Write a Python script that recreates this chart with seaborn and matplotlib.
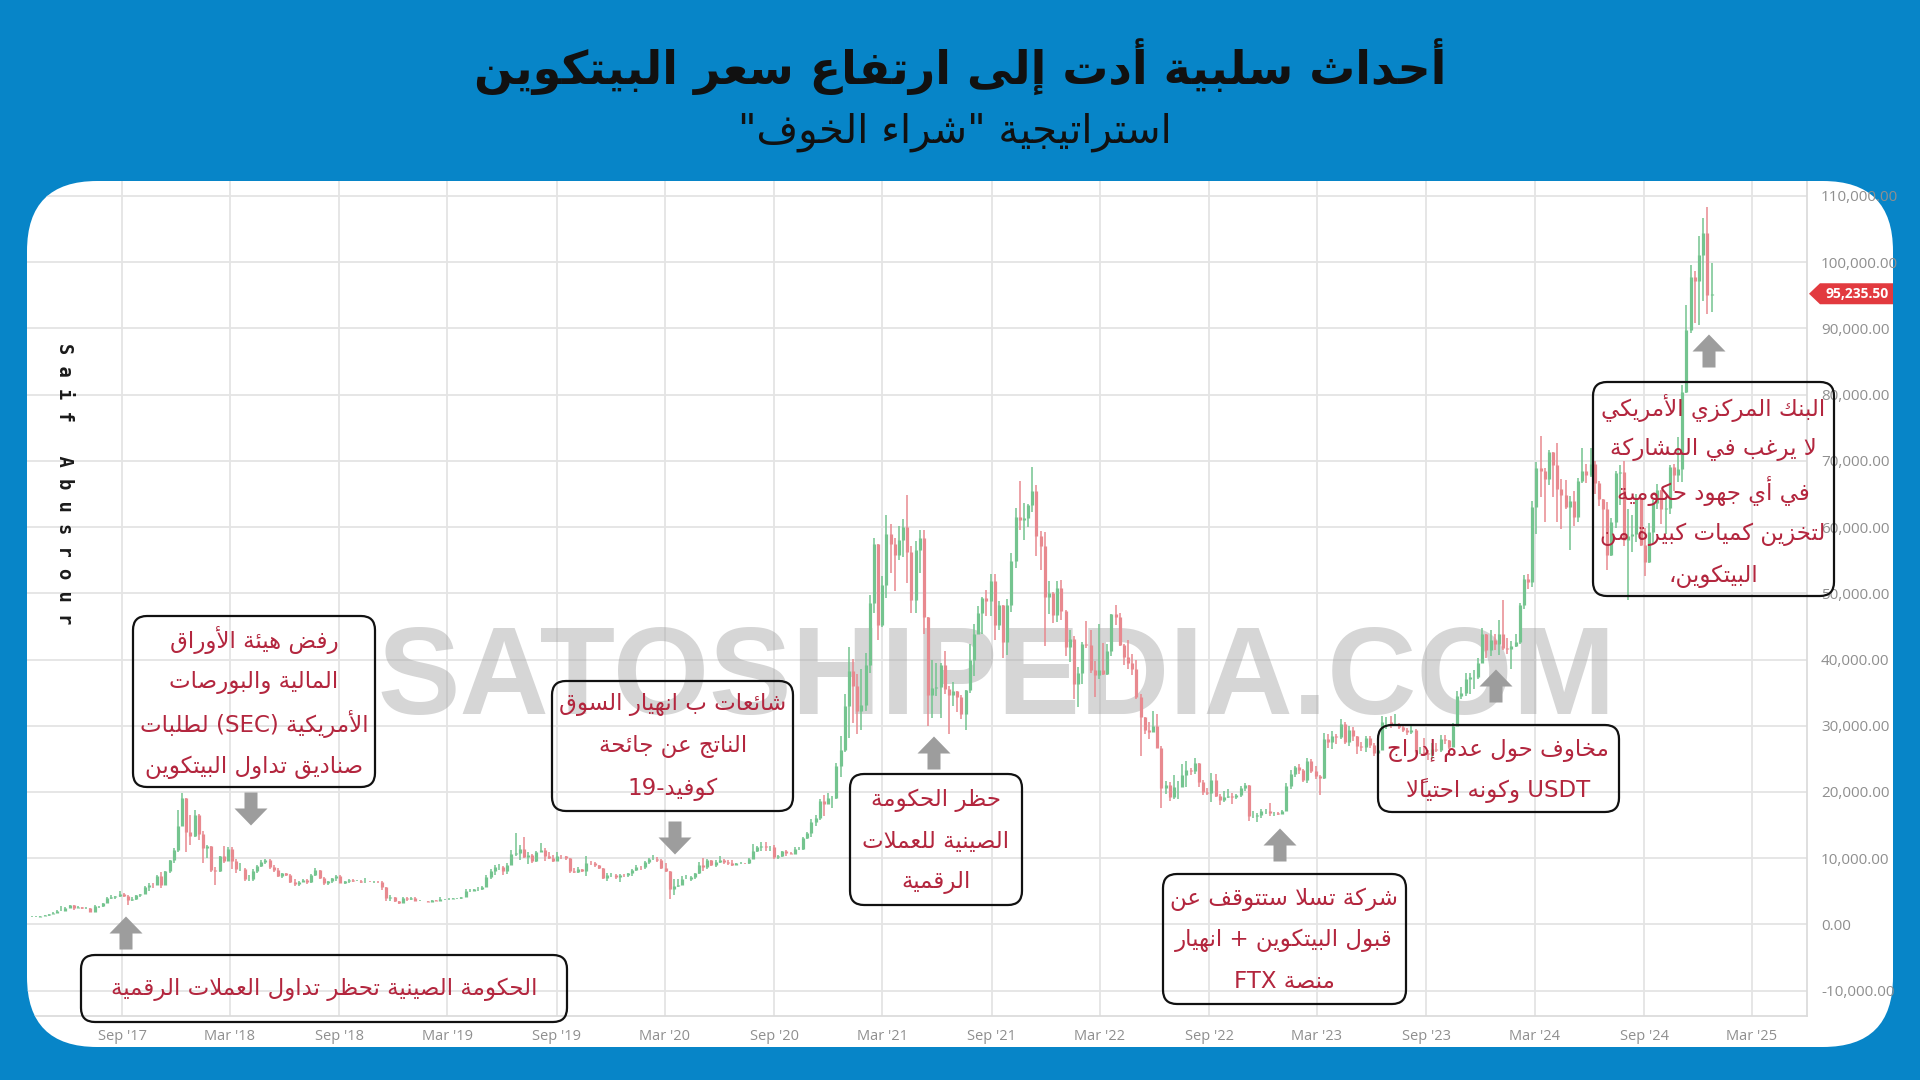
import numpy as np
import pandas as pd
import matplotlib
matplotlib.use("Agg")
import matplotlib.pyplot as plt
import matplotlib.dates as mdates
import seaborn as sns
from matplotlib.patches import FancyBboxPatch, Polygon
from matplotlib.transforms import IdentityTransform
from matplotlib.ticker import FixedLocator, FuncFormatter

# ---------------------------------------------------------------- data
START_WEEK = "2017-04-03"      # first weekly candle (Monday)
FIRST_OPEN_K = 1.08            # open of the first candle, thousands USD
LAST_PRICE = 95235.50

# weekly closes, thousands USD (one line per month)
CLOSE_K = [
    1.17, 1.18, 1.24, 1.35,
    1.54, 1.72, 2.04, 2.05, 2.52,
    2.95, 2.50, 2.58, 2.50,
    2.51, 1.93, 2.75, 2.75, 3.23,
    4.05, 4.08, 4.35, 4.58,
    4.33, 3.68, 3.79, 4.37,
    4.61, 5.68, 6.00, 5.90, 7.37,
    5.95, 8.05, 9.70, 11.20,
    14.90, 19.10, 13.90, 13.40,
    # 2018
    16.50, 13.60, 11.60, 11.80, 8.20,
    8.10, 10.30, 9.60, 11.40,
    9.50, 8.30, 8.40, 6.90,
    6.90, 8.00, 8.80, 9.40, 9.70,
    8.70, 8.20, 7.35, 7.70,
    7.50, 6.45, 6.15, 6.40,
    6.76, 6.35, 7.40, 8.20, 7.00,
    6.30, 6.50, 7.00, 7.30,
    6.20, 6.50, 6.70, 6.60,
    6.60, 6.45, 6.47, 6.40, 6.40,
    6.35, 5.60, 4.00, 4.10,
    3.50, 3.20, 3.95, 3.85, 4.05,
    # 2019
    3.55, 3.55, 3.55, 3.45,
    3.65, 3.60, 3.80, 3.85,
    3.90, 3.95, 3.95, 4.10,
    5.05, 5.10, 5.30, 5.30, 5.70,
    7.20, 8.00, 8.70, 8.70,
    8.00, 9.00, 10.70, 10.80,
    11.40, 10.20, 10.50, 9.50, 11.00,
    11.30, 10.30, 10.10, 9.60,
    10.40, 10.30, 10.00, 8.00, 7.95,
    8.30, 8.00, 9.30, 9.20,
    9.00, 8.50, 7.00, 7.40,
    7.50, 7.10, 7.50, 7.40, 7.75,
    # 2020
    8.15, 8.70, 8.60, 9.35,
    9.90, 9.90, 9.65, 8.50,
    8.00, 5.40, 5.80, 5.90, 6.80,
    6.90, 7.10, 7.70, 8.90,
    8.70, 9.70, 8.90, 9.45,
    9.65, 9.35, 9.30, 9.00, 9.25,
    9.30, 9.20, 9.95, 11.05,
    11.70, 11.90, 11.65, 11.70, 10.25,
    10.30, 11.10, 10.75, 10.65,
    11.40, 11.40, 13.10, 13.80,
    15.50, 16.00, 18.60, 18.20, 19.15,
    19.15, 23.90, 26.40, 33.00,
    # 2021
    38.20, 36.00, 32.30, 33.10,
    39.20, 48.60, 57.50, 45.20,
    51.20, 59.00, 57.50, 55.80, 58.00,
    60.00, 56.20, 49.00, 56.60,
    58.30, 46.40, 34.70, 35.70, 35.80,
    39.10, 35.50, 34.60, 35.30,
    34.30, 31.80, 35.40, 39.90,
    43.80, 47.00, 49.30, 48.80, 51.80,
    45.20, 48.30, 42.70, 48.20,
    54.90, 61.50, 61.00, 61.30,
    63.30, 65.50, 58.60, 57.20, 49.40,
    50.10, 46.70, 50.80, 47.30,
    # 2022
    41.90, 43.10, 36.30, 37.90, 42.40,
    42.20, 38.40, 37.70, 38.40,
    37.80, 41.30, 46.80, 46.40,
    42.20, 40.40, 39.50, 38.50,
    34.30, 31.30, 29.40, 29.00, 29.90,
    26.60, 20.60, 21.00, 19.30,
    20.80, 20.80, 22.60, 23.30,
    23.20, 24.40, 21.50, 20.00, 19.80,
    21.80, 19.40, 18.80, 19.30,
    19.40, 19.20, 19.60, 20.60, 21.00,
    16.30, 16.30, 16.45, 17.10,
    17.10, 16.80, 16.85, 16.60,
    # 2023
    17.10, 20.90, 22.70, 23.75, 23.30,
    21.80, 24.60, 23.20, 22.40,
    22.10, 28.00, 27.50, 28.50,
    28.30, 30.30, 27.60, 29.30,
    28.40, 26.90, 26.80, 28.10, 27.10,
    25.90, 26.30, 30.50, 30.60,
    30.20, 30.25, 29.80, 29.30, 29.05,
    29.30, 26.10, 26.10, 25.85,
    25.80, 26.50, 26.30, 27.95,
    27.90, 26.85, 30.00, 34.50, 35.00,
    37.00, 37.40, 37.40, 39.50,
    43.80, 41.40, 43.00, 42.30,
    # 2024
    43.90, 41.70, 41.60, 42.00, 42.60,
    48.30, 52.10, 51.70, 63.10,
    68.90, 68.40, 67.20, 71.30,
    69.40, 65.70, 64.90, 63.10, 64.00,
    61.50, 66.90, 68.50, 67.80,
    69.60, 66.60, 64.30, 62.70,
    55.80, 60.80, 68.20, 68.25, 58.10,
    58.70, 58.90, 64.20, 57.30,
    54.80, 59.20, 63.60, 65.60, 62.80,
    62.90, 69.00, 67.90, 68.70,
    80.40, 89.80, 97.70, 97.20,
    101.10, 104.40, 95.10, 95.2355,
]

HIGH_K = [
    1.20, 1.22, 1.26, 1.35,
    1.60, 1.83, 2.10, 2.76, 2.60,
    2.98, 2.98, 2.77, 2.60,
    2.65, 2.52, 2.88, 2.85, 3.28,
    4.12, 4.48, 4.36, 4.98,
    4.70, 4.38, 4.12, 4.40,
    4.63, 5.86, 6.18, 6.20, 7.40,
    7.88, 8.10, 9.75, 11.50,
    17.30, 19.80, 19.10, 16.50,
    # 2018
    17.30, 16.60, 14.10, 12.00, 11.90,
    8.60, 10.40, 11.80, 11.70,
    11.70, 9.90, 9.20, 8.50,
    7.50, 8.40, 8.90, 9.80, 9.95,
    9.90, 8.90, 8.50, 7.75,
    7.80, 7.60, 6.80, 6.50,
    6.80, 6.80, 7.60, 8.50, 8.20,
    7.15, 6.60, 7.00, 7.40,
    7.40, 6.60, 6.80, 6.80,
    6.70, 6.70, 7.00, 6.55, 6.50,
    6.60, 6.50, 5.60, 4.40,
    4.20, 3.60, 4.20, 4.20, 4.10,
    # 2019
    4.10, 3.70, 3.60, 3.60,
    3.70, 3.65, 4.20, 3.90,
    3.95, 4.00, 4.05, 4.10,
    5.30, 5.40, 5.40, 5.60, 5.80,
    7.50, 8.30, 8.90, 9.10,
    8.80, 9.30, 11.20, 13.80,
    12.00, 13.20, 11.00, 10.60, 11.10,
    12.30, 11.50, 10.90, 10.50,
    10.90, 10.50, 10.30, 10.10, 8.50,
    8.70, 8.40, 10.40, 9.50,
    9.40, 9.00, 8.50, 7.80,
    7.75, 7.60, 7.60, 7.60, 7.75,
    # 2020
    8.40, 9.00, 8.80, 9.60,
    10.10, 10.50, 10.20, 9.90,
    9.20, 8.10, 6.90, 6.90, 7.30,
    7.45, 7.30, 7.75, 9.45,
    10.05, 9.90, 9.80, 9.70,
    10.40, 9.95, 9.80, 9.70, 9.30,
    9.45, 9.30, 10.00, 12.10,
    11.90, 12.40, 12.45, 11.80, 12.00,
    10.55, 11.10, 11.20, 10.95,
    11.70, 11.75, 13.20, 14.00,
    15.95, 16.50, 18.90, 19.50, 19.90,
    19.40, 24.30, 28.40, 34.80,
    # 2021
    41.95, 40.10, 37.85, 38.50,
    40.95, 49.70, 58.35, 57.00,
    52.60, 61.80, 60.50, 58.40, 60.20,
    61.20, 64.85, 57.20, 57.90,
    59.60, 59.50, 46.00, 40.00, 39.50,
    39.40, 41.30, 36.00, 36.60,
    35.10, 34.60, 35.40, 42.30,
    45.30, 48.10, 49.40, 50.50, 52.90,
    52.90, 48.80, 48.20, 49.20,
    56.10, 62.90, 67.00, 63.70,
    63.50, 69.00, 66.30, 59.40, 59.20,
    51.90, 50.20, 51.90, 52.00,
    # 2022
    47.50, 44.40, 43.50, 38.90, 42.60,
    45.80, 44.50, 39.80, 45.40,
    42.50, 42.30, 46.90, 48.20,
    47.00, 42.40, 42.90, 40.80,
    40.00, 34.80, 30.70, 30.60, 32.20,
    31.70, 26.90, 21.60, 21.50,
    22.50, 21.60, 24.20, 24.60,
    23.60, 25.20, 24.40, 21.80, 20.60,
    22.80, 22.70, 19.70, 20.20,
    20.45, 19.90, 19.70, 20.85, 21.40,
    21.10, 17.10, 16.80, 17.40,
    17.40, 18.40, 16.95, 16.95,
    # 2023
    17.20, 21.40, 23.30, 23.95, 24.20,
    23.40, 25.20, 25.00, 23.90,
    22.60, 28.90, 28.80, 29.20,
    28.70, 31.00, 30.50, 30.00,
    29.80, 28.00, 27.50, 28.40, 28.40,
    27.40, 26.80, 31.40, 31.30,
    31.50, 31.80, 30.40, 30.00, 29.60,
    30.20, 29.50, 26.80, 28.10,
    26.40, 27.40, 27.40, 28.60,
    28.60, 27.90, 30.40, 35.20, 35.90,
    38.00, 37.90, 38.40, 40.20,
    44.70, 43.40, 44.40, 43.80,
    # 2024
    45.90, 48.95, 43.20, 42.80, 43.80,
    48.50, 52.80, 52.90, 64.00,
    69.90, 73.80, 68.90, 71.70,
    71.30, 72.70, 67.20, 67.10, 64.70,
    65.50, 67.40, 71.90, 69.50,
    71.90, 70.00, 67.00, 63.80,
    63.80, 61.40, 68.40, 69.40, 70.00,
    62.70, 61.80, 65.00, 64.50,
    59.80, 60.60, 64.10, 66.50, 65.00,
    64.50, 69.40, 69.50, 73.60,
    81.50, 93.50, 99.60, 98.70,
    104.00, 106.60, 108.40, 99.90,
]

LOW_K = [
    1.07, 1.15, 1.16, 1.23,
    1.33, 1.53, 1.70, 1.95, 2.05,
    2.42, 2.16, 2.47, 2.27,
    2.30, 1.83, 1.93, 2.52, 2.68,
    3.25, 3.80, 3.86, 4.20,
    4.10, 2.97, 3.52, 3.74,
    4.15, 4.60, 5.10, 5.44, 5.88,
    5.55, 5.95, 7.80, 9.30,
    10.90, 14.80, 11.00, 12.00,
    # 2018
    13.20, 12.80, 9.20, 10.10, 7.90,
    6.00, 7.90, 9.30, 9.50,
    8.40, 7.70, 8.00, 6.60,
    6.50, 6.60, 7.80, 8.60, 9.10,
    8.40, 7.90, 7.10, 7.05,
    7.30, 6.30, 5.80, 5.80,
    6.40, 6.10, 6.30, 7.35, 6.90,
    6.00, 5.90, 6.30, 6.60,
    6.20, 6.10, 6.20, 6.40,
    6.50, 6.20, 6.30, 6.35, 6.25,
    6.30, 5.20, 3.60, 3.55,
    3.40, 3.15, 3.20, 3.60, 3.70,
    # 2019
    3.50, 3.50, 3.50, 3.40,
    3.40, 3.55, 3.60, 3.70,
    3.70, 3.85, 3.90, 3.90,
    4.10, 4.90, 5.00, 5.00, 5.20,
    5.70, 6.80, 7.50, 8.20,
    7.50, 7.60, 9.00, 10.30,
    9.70, 10.10, 9.10, 9.20, 9.40,
    11.00, 9.50, 9.90, 9.40,
    9.60, 9.90, 9.80, 7.80, 7.80,
    7.80, 7.90, 7.30, 8.90,
    8.70, 8.40, 6.80, 6.50,
    7.20, 6.90, 6.45, 7.10, 7.20,
    # 2020
    7.30, 8.00, 8.20, 8.30,
    9.15, 9.80, 9.40, 8.40,
    7.95, 3.80, 4.40, 5.70, 5.90,
    6.80, 6.50, 6.85, 7.65,
    8.10, 8.30, 8.80, 8.70,
    9.30, 9.15, 9.00, 8.85, 8.95,
    9.05, 9.05, 9.10, 9.90,
    11.00, 11.10, 11.10, 11.15, 9.90,
    9.90, 10.20, 10.35, 10.60,
    10.60, 11.20, 11.25, 12.90,
    13.20, 14.80, 15.70, 16.30, 18.20,
    17.60, 18.90, 22.20, 26.10,
    # 2021
    28.10, 30.40, 28.80, 29.30,
    32.30, 37.90, 47.00, 43.00,
    44.90, 49.30, 53.10, 50.40, 55.10,
    55.50, 51.50, 47.00, 47.00,
    53.00, 43.80, 30.00, 31.10, 34.50,
    31.10, 34.80, 28.80, 33.00,
    32.10, 31.00, 29.30, 35.00,
    37.50, 43.80, 43.90, 46.50, 46.50,
    43.00, 44.50, 40.20, 40.70,
    47.20, 53.80, 59.60, 58.00,
    60.00, 62.30, 55.60, 53.50, 42.00,
    46.80, 45.50, 45.60, 46.00,
    # 2022
    40.60, 39.70, 34.00, 32.90, 36.30,
    41.70, 38.00, 34.30, 37.00,
    37.60, 37.60, 40.50, 45.20,
    42.10, 39.20, 38.60, 37.70,
    34.00, 25.40, 28.70, 28.00, 29.30,
    26.60, 17.60, 19.70, 18.60,
    19.00, 18.90, 21.00, 20.70,
    22.60, 22.70, 20.80, 19.60, 19.50,
    18.50, 19.30, 18.10, 18.50,
    19.10, 18.20, 18.90, 19.20, 20.10,
    15.60, 16.10, 15.50, 16.00,
    16.70, 16.30, 16.40, 16.50,
    # 2023
    16.60, 17.10, 20.40, 22.30, 22.70,
    21.50, 21.40, 22.80, 21.90,
    19.60, 21.90, 26.60, 26.50,
    27.20, 28.00, 27.20, 27.00,
    27.70, 25.80, 26.20, 26.10, 26.60,
    25.40, 24.80, 26.30, 29.50,
    29.70, 29.90, 29.50, 29.10, 28.60,
    28.80, 25.20, 25.80, 25.40,
    24.90, 25.00, 26.00, 26.00,
    27.20, 26.50, 26.90, 29.90, 34.10,
    34.50, 34.80, 35.60, 37.00,
    39.50, 40.20, 40.50, 41.50,
    # 2024
    40.70, 41.50, 40.90, 38.60, 41.90,
    42.30, 47.70, 50.60, 50.90,
    59.00, 64.50, 60.80, 66.40,
    64.50, 60.80, 59.70, 62.80, 56.50,
    60.20, 60.70, 66.60, 66.70,
    67.60, 65.00, 63.20, 58.40,
    53.50, 55.70, 59.90, 63.40, 57.20,
    49.00, 56.20, 57.80, 57.20,
    52.60, 54.60, 57.50, 62.70, 60.40,
    58.90, 62.00, 65.50, 66.80,
    66.80, 80.20, 89.30, 90.80,
    90.50, 94.10, 92.20, 92.50,
]

X_TICK_START = "2017-09-01"
X_TICK_END = "2025-03-01"
Y_TICKS = list(range(-10000, 110001, 10000))

TITLE = "أحداث سلبية أدت إلى ارتفاع سعر البيتكوين"
SUBTITLE = 'استراتيجية "شراء الخوف"'
AUTHOR = "S a i f   A b u s r o u r"
WATERMARK = "SATOSHIPEDIA.COM"

EVENT_LINES = [
    ["الحكومة الصينية تحظر تداول العملات الرقمية"],
    ["رفض هيئة الأوراق", "المالية والبورصات", "الأمريكية (SEC) لطلبات", "صناديق تداول البيتكوين"],
    ["شائعات ب انهيار السوق", "الناتج عن جائحة", "كوفيد-19"],
    ["حظر الحكومة", "الصينية للعملات", "الرقمية"],
    ["شركة تسلا ستتوقف عن", "قبول البيتكوين + انهيار", "منصة FTX"],
    ["مخاوف حول عدم إدراج", "USDT وكونه احتيالاً"],
    ["البنك المركزي الأمريكي", "لا يرغب في المشاركة", "في أي جهود حكومية",
     "لتخزين كميات كبيرة من", "البيتكوين،"],
]

# ---------------------------------------------------------------- layout (pixels, top-left origin)
W, H = 1920, 1080
BLUE = "#0785c8"
TXT_RED = "#b3263e"
ARROW_GRAY = "#9d9d9d"
GRID = "#e4e4e4"
UP_C, DN_C = "#74c48f", "#e8898f"

PANEL = (27, 181, 1893, 1047)
AX_BOX = (27, 181, 1807, 1016)

BOXES = [  # x0, y0, x1, y1, centre x, line ys
    (81, 955, 567, 1022, 324, [989]),
    (133, 616, 375, 787, 254, [640, 682, 724, 767]),
    (552, 681, 793, 811, 673, [705, 747, 789]),
    (850, 774, 1022, 905, 936, [800, 841, 883]),
    (1163, 874, 1406, 1004, 1284, [899, 940, 981]),
    (1378, 725, 1619, 812, 1498, [751, 791]),
    (1593, 382, 1834, 596, 1713, [408, 449, 491, 534, 576]),
]
ARROWS = [(126, 933, True), (251, 809, False), (675, 838, False), (934, 753, True),
          (1280, 845, True), (1496, 686, True), (1709, 351, True)]

# ---------------------------------------------------------------- simple Arabic shaping + bidi
_R = {'\u0622': 0xFE81, '\u0623': 0xFE83, '\u0624': 0xFE85, '\u0625': 0xFE87, '\u0627': 0xFE8D,
      '\u0629': 0xFE93, '\u062F': 0xFEA9, '\u0630': 0xFEAB, '\u0631': 0xFEAD, '\u0632': 0xFEAF,
      '\u0648': 0xFEED, '\u0649': 0xFEEF}
_D = {'\u0626': 0xFE89, '\u0628': 0xFE8F, '\u062A': 0xFE95, '\u062B': 0xFE99, '\u062C': 0xFE9D,
      '\u062D': 0xFEA1, '\u062E': 0xFEA5, '\u0633': 0xFEB1, '\u0634': 0xFEB5, '\u0635': 0xFEB9,
      '\u0636': 0xFEBD, '\u0637': 0xFEC1, '\u0638': 0xFEC5, '\u0639': 0xFEC9, '\u063A': 0xFECD,
      '\u0641': 0xFED1, '\u0642': 0xFED5, '\u0643': 0xFED9, '\u0644': 0xFEDD, '\u0645': 0xFEE1,
      '\u0646': 0xFEE5, '\u0647': 0xFEE9, '\u064A': 0xFEF1}
_U = {'\u0621': 0xFE80}
_LA = {'\u0622': 0xFEF5, '\u0623': 0xFEF7, '\u0625': 0xFEF9, '\u0627': 0xFEFB}
_MIRROR = {'(': ')', ')': '(', '[': ']', ']': '[', '<': '>', '>': '<'}


def _is_mark(ch):
    return '\u064B' <= ch <= '\u065F' or ch == '\u0670'


def _shape(s):
    cl = []
    for ch in s:
        if _is_mark(ch) and cl:
            cl[-1][1].append(ch)
        else:
            cl.append([ch, []])
    merged, i = [], 0
    while i < len(cl):
        b, m = cl[i]
        if b == '\u0644' and i + 1 < len(cl) and cl[i + 1][0] in _LA:
            merged.append([('LA', cl[i + 1][0]), m + cl[i + 1][1]])
            i += 2
        else:
            merged.append([b, m])
            i += 1

    def jt(b):
        if isinstance(b, tuple):
            return 'R'
        if b in _D:
            return 'D'
        if b in _R:
            return 'R'
        return 'U'
    types = [jt(b) for b, _ in merged]
    out, n = [], len(merged)
    for i, (b, m) in enumerate(merged):
        t = types[i]
        cp = t in ('D', 'R') and i > 0 and types[i - 1] == 'D'
        cn = t == 'D' and i + 1 < n and types[i + 1] in ('D', 'R')
        if isinstance(b, tuple):
            g = chr(_LA[b[1]] + (1 if cp else 0))
        elif t == 'D':
            g = chr(_D[b] + (3 if (cp and cn) else 1 if cp else 2 if cn else 0))
        elif t == 'R':
            g = chr(_R[b] + (1 if cp else 0))
        elif b in _U:
            g = chr(_U[b])
        else:
            g = b
        out.append((g, ''.join(m), b))
    return out


def ar(s):
    cl = _shape(s)

    def cls(o):
        if isinstance(o, tuple) or '\u0600' <= o <= '\u06FF':
            return 'R'
        if o.isalnum():
            return 'L'
        return 'N'
    ks = [cls(o) for _, _, o in cl]
    n = len(ks)
    lv = []
    for i, k in enumerate(ks):
        if k == 'R':
            lv.append(1)
        elif k == 'L':
            lv.append(2)
        else:
            p = next((ks[j] for j in range(i - 1, -1, -1) if ks[j] != 'N'), 'R')
            q = next((ks[j] for j in range(i + 1, n) if ks[j] != 'N'), 'R')
            lv.append(2 if (p == 'L' and q == 'L') else 1)
    units = [g + m for g, m, _ in cl]
    units = [_MIRROR.get(u, u) if lv[i] == 1 else u for i, u in enumerate(units)]
    i = 0
    while i < n:
        if lv[i] == 2:
            j = i
            while j < n and lv[j] == 2:
                j += 1
            units[i:j] = units[i:j][::-1]
            i = j
        else:
            i += 1
    return ''.join(units[::-1])


# ---------------------------------------------------------------- figure
sns.set_theme(style="white")
plt.rcParams['font.family'] = ['Open Sans', 'DejaVu Sans']
AR_FONT = ['DejaVu Sans']

fig = plt.figure(figsize=(W / 100, H / 100), dpi=100)
fig.patch.set_facecolor(BLUE)
IDT = IdentityTransform()


def disp(x, y):
    return (x, H - y)


px0, py0, px1, py1 = PANEL
panel = FancyBboxPatch(disp(px0, py1), px1 - px0, py1 - py0,
                       boxstyle="round,pad=0,rounding_size=70",
                       transform=IDT, facecolor="white", edgecolor="none", zorder=-5)
fig.add_artist(panel)

ax0, ay0, ax1, ay1 = AX_BOX
ax = fig.add_axes([ax0 / W, 1 - ay1 / H, (ax1 - ax0) / W, (ay1 - ay0) / H])
ax.set_facecolor("none")

# candles
c = np.array(CLOSE_K) * 1000
hi = np.array(HIGH_K) * 1000
lo = np.array(LOW_K) * 1000
assert len(c) == len(hi) == len(lo), (len(c), len(hi), len(lo))
o = np.r_[FIRST_OPEN_K * 1000, c[:-1]]
dates = pd.date_range(START_WEEK, periods=len(c), freq="7D")
df = pd.DataFrame({"date": dates, "open": o, "high": np.maximum(hi, np.maximum(o, c)),
                   "low": np.minimum(lo, np.minimum(o, c)), "close": c})
df["x"] = mdates.date2num(df["date"])
df["col"] = np.where(df["close"] >= df["open"], UP_C, DN_C)

xlim = (mdates.date2num(pd.Timestamp("2017-03-25 10:00")), mdates.date2num(pd.Timestamp("2025-06-01 10:00")))
ylim = (-13833, 112262)
ax.set_xlim(*xlim)
ax.set_ylim(*ylim)

# grid
xticks = pd.date_range(X_TICK_START, X_TICK_END, freq="6MS")
gv = ax.vlines(mdates.date2num(xticks), ylim[0], ylim[1], color=GRID, lw=1.3, zorder=1)
gh = ax.hlines(Y_TICKS, xlim[0], xlim[1], color=GRID, lw=1.3, zorder=1)

wicks = ax.vlines(df["x"], df["low"], df["high"], color=df["col"], lw=1.1, zorder=3)
bodies = ax.vlines(df["x"], np.minimum(df["open"], df["close"]), np.maximum(df["open"], df["close"]),
                   color=df["col"], lw=2.3, zorder=3.1)

# watermark
ax.text(997 / W, 1 - 682 / H, WATERMARK, transform=fig.transFigure, ha="center", va="center",
        fontsize=89, fontweight="bold", family=["Liberation Sans"], color="#a4a4a4", alpha=0.45, zorder=2)

# axes cosmetics
ax.xaxis.set_major_locator(FixedLocator(mdates.date2num(xticks)))
ax.xaxis.set_major_formatter(mdates.DateFormatter("%b '%y"))
ax.yaxis.set_major_locator(FixedLocator(Y_TICKS))
ax.yaxis.set_major_formatter(FuncFormatter(lambda v, p: f"{v:,.2f}"))
ax.yaxis.tick_right()
ax.tick_params(axis="x", length=0, pad=9, labelsize=10.5, labelcolor="#8f8f8f")
ax.tick_params(axis="y", length=0, pad=10, labelsize=11, labelcolor="#8f8f8f")
ax.grid(False)
for side in ["top", "left"]:
    ax.spines[side].set_visible(False)
for side in ["right", "bottom"]:
    ax.spines[side].set_color("#dcdcdc")
    ax.spines[side].set_linewidth(1.3)

for art in [gv, gh, wicks, bodies, *ax.spines.values(), *ax.get_yticklabels(), *ax.get_xticklabels()]:
    art.set_clip_path(panel)

# price tag
ypx = ax.transData.transform((xlim[0], LAST_PRICE))[1]
rx = ax.transData.transform((xlim[1], 0))[0]
tag = Polygon([(rx + 2, ypx), (rx + 13, ypx + 10.5), (rx + 95, ypx + 10.5), (rx + 95, ypx - 10.5),
               (rx + 13, ypx - 10.5)], closed=True, transform=IDT, facecolor="#e23a3f",
              edgecolor="none", zorder=6)
fig.add_artist(tag)
tag.set_clip_path(panel)
t = fig.text((rx + 50) / W, ypx / H, f"{LAST_PRICE:,.2f}", ha="center", va="center",
             color="white", fontsize=10, fontweight="bold", zorder=7)
t.set_clip_path(panel)

# titles
fig.text(960 / W, 1 - 67 / H, ar(TITLE), ha="center", va="center", fontsize=33,
         fontweight="bold", family=AR_FONT, color="#111111")
fig.text(955 / W, 1 - 132 / H, ar(SUBTITLE), ha="center", va="center", fontsize=29,
         family=AR_FONT, color="#111111")
fig.text(64 / W, 1 - 484 / H, AUTHOR, ha="center", va="center", rotation=270, fontsize=13.5,
         fontweight="bold", family=["DejaVu Sans Mono"], color="#1a1a1a")

# event boxes
for (x0, y0, x1, y1, cx, ys), lines in zip(BOXES, EVENT_LINES):
    b = FancyBboxPatch(disp(x0, y1), x1 - x0, y1 - y0, boxstyle="round,pad=0,rounding_size=14",
                       transform=IDT, facecolor="none", edgecolor="#111111", lw=1.6, zorder=6)
    fig.add_artist(b)
    for yy, line in zip(ys, lines):
        fig.text(cx / W, 1 - yy / H, ar(line), ha="center", va="center", fontsize=16.5,
                 family=AR_FONT, color=TXT_RED, zorder=7)


def block_arrow(cx, cy, up, L=33, HW=33, HL=17, SW=13):
    tip = cy - L / 2 if up else cy + L / 2
    tail = cy + L / 2 if up else cy - L / 2
    neck = tip + HL if up else tip - HL
    pts = [(cx, tip), (cx + HW / 2, neck), (cx + SW / 2, neck), (cx + SW / 2, tail),
           (cx - SW / 2, tail), (cx - SW / 2, neck), (cx - HW / 2, neck)]
    return [disp(x, y) for x, y in pts]


for cx, cy, up in ARROWS:
    fig.add_artist(Polygon(block_arrow(cx, cy, up), closed=True, transform=IDT,
                           facecolor=ARROW_GRAY, edgecolor="none", zorder=6))

fig.savefig("out.png", dpi=100, facecolor=fig.get_facecolor())
